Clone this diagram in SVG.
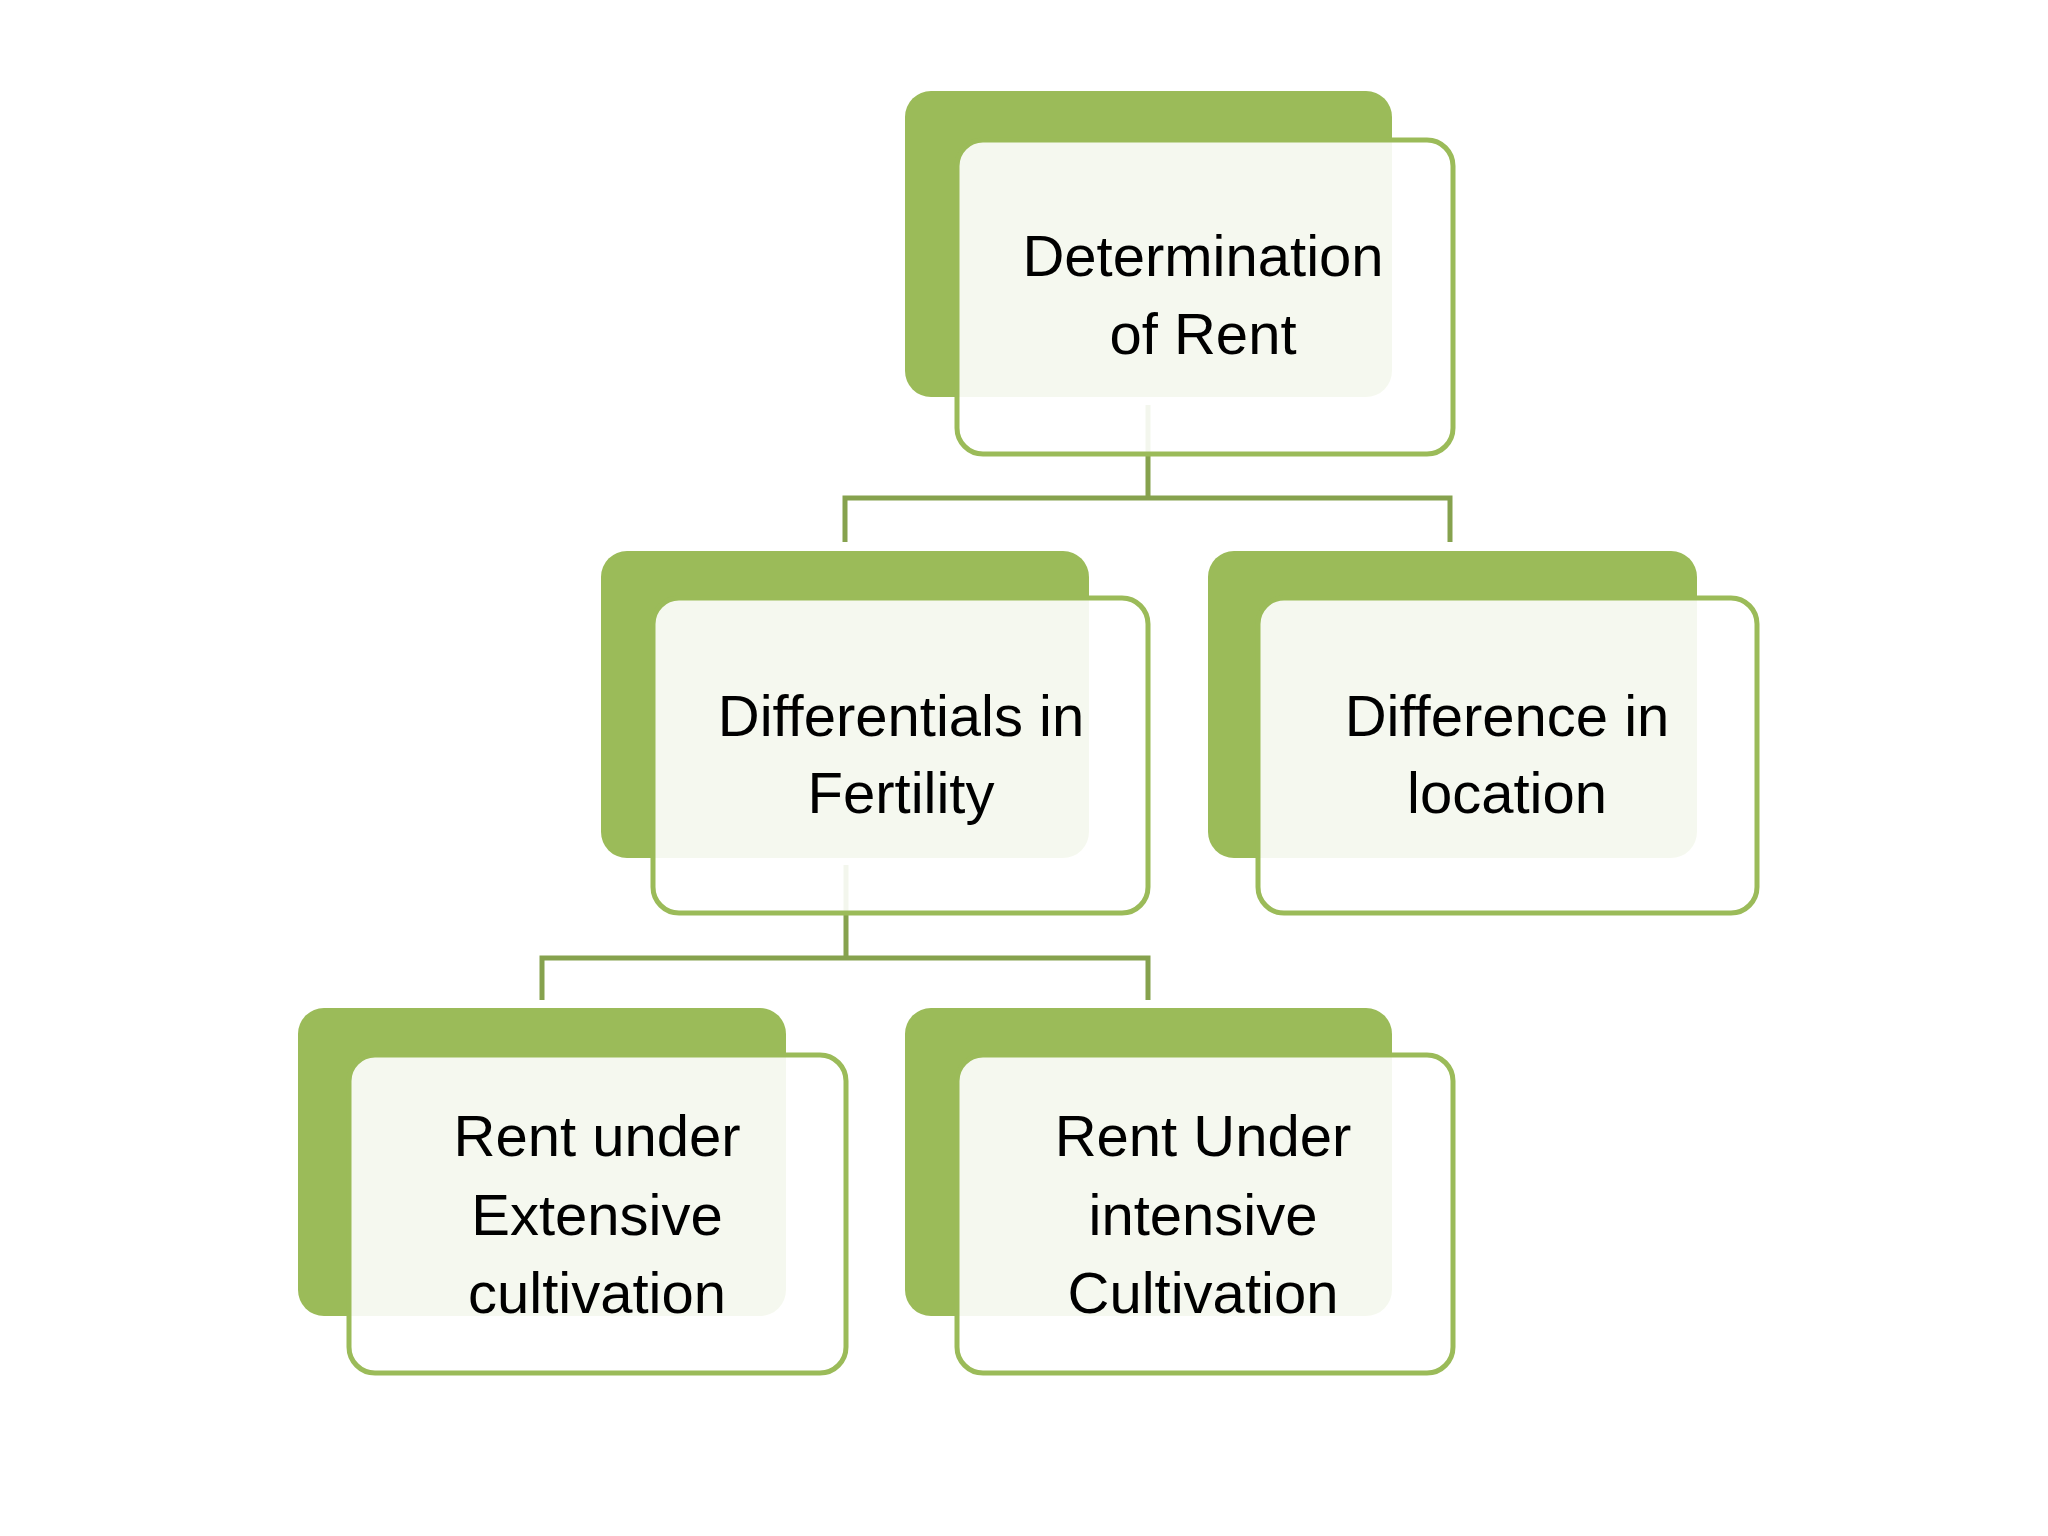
<svg xmlns="http://www.w3.org/2000/svg" width="2048" height="1536" viewBox="0 0 2048 1536">
<style>
.back{fill:#9BBB59}
.front{fill:#ffffff;fill-opacity:0.9;stroke:#9BBB59;stroke-width:5}
.t{font-family:"Liberation Sans","Open Sans",sans-serif;font-size:58px;fill:#000;text-anchor:middle}
.c{fill:none;stroke:#86A24E;stroke-width:5}
</style>
<rect width="2048" height="1536" fill="#fff"/>
<g id="connectors">
<path class="c" d="M1148 405V498M845 542V498H1450V542"/>
<path class="c" d="M846 865V958M542 1000V958H1148V1000"/>
</g>
<g id="n1"><rect class="back" x="905" y="91" width="487" height="306" rx="26"/><rect class="front" x="957" y="140" width="496" height="314" rx="26"/><text class="t" x="1203" y="276">Determination</text><text class="t" x="1203" y="354">of Rent</text></g>
<g id="n2"><rect class="back" x="601" y="551" width="488" height="307" rx="26"/><rect class="front" x="653" y="598" width="495" height="315" rx="26"/><text class="t" x="901" y="736">Differentials in</text><text class="t" x="901" y="813">Fertility</text></g>
<g id="n3"><rect class="back" x="1208" y="551" width="489" height="307" rx="26"/><rect class="front" x="1258" y="598" width="499" height="315" rx="26"/><text class="t" x="1507" y="736">Difference in</text><text class="t" x="1507" y="813">location</text></g>
<g id="n4"><rect class="back" x="298" y="1008" width="488" height="308" rx="26"/><rect class="front" x="349" y="1055" width="497" height="318" rx="26"/><text class="t" x="597" y="1156">Rent under</text><text class="t" x="597" y="1235">Extensive</text><text class="t" x="597" y="1313">cultivation</text></g>
<g id="n5"><rect class="back" x="905" y="1008" width="487" height="308" rx="26"/><rect class="front" x="957" y="1055" width="496" height="318" rx="26"/><text class="t" x="1203" y="1156">Rent Under</text><text class="t" x="1203" y="1235">intensive</text><text class="t" x="1203" y="1313">Cultivation</text></g>
</svg>
